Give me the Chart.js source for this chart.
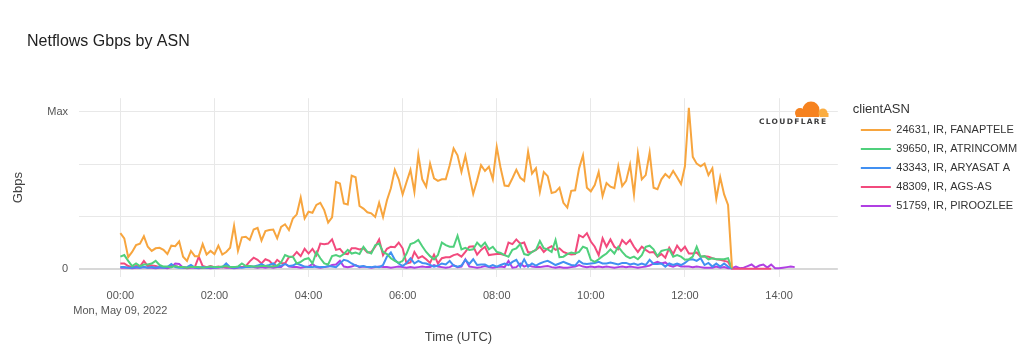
<!DOCTYPE html>
<html>
<head>
<meta charset="utf-8">
<title>Netflows Gbps by ASN</title>
<script src="https://cdn.jsdelivr.net/npm/chart.js@4.4.1/dist/chart.umd.min.js"></script>
<style>
  html, body { margin: 0; padding: 0; background: #fff; }
  #wrap { width: 1033px; height: 358px; }
</style>
</head>
<body>
<div id="wrap"><canvas id="netflows"></canvas></div>
<script>
// samples every 5 minutes from 00:00 UTC
var stepMinutes = 5;

var asnNames = [
  "24631, IR, FANAPTELE",
  "39650, IR, ATRINCOMM",
  "43343, IR, ARYASAT A",
  "48309, IR, AGS-AS",
  "51759, IR, PIROOZLEE"
];
var asnColors = ["#f7a53e", "#4fd07c", "#4190f2", "#f24a7d", "#b03fe3"];

// values relative to the "Max" gridline (= 3)
var fanaptele = [
  0.68, 0.58, 0.22, 0.32, 0.45, 0.48, 0.62, 0.42, 0.34, 0.39, 0.40, 0.36, 0.28, 0.44, 0.43, 0.52, 0.23, 0.15, 0.34, 0.24,
  0.24, 0.47, 0.27, 0.34, 0.28, 0.44, 0.27, 0.32, 0.40, 0.82, 0.34, 0.60, 0.61, 0.55, 0.75, 0.78, 0.54, 0.72, 0.74, 0.75,
  0.58, 0.80, 0.85, 0.74, 0.96, 1.04, 1.36, 0.96, 1.09, 1.07, 1.22, 1.26, 1.12, 0.88, 0.98, 1.66, 1.63, 1.25, 1.23, 1.78,
  1.75, 1.20, 1.15, 1.08, 1.06, 0.99, 1.26, 0.99, 1.31, 1.54, 1.89, 1.71, 1.42, 1.66, 1.89, 1.47, 2.18, 1.71, 1.57, 2.01,
  1.73, 1.68, 1.71, 1.71, 1.98, 2.30, 2.17, 1.85, 2.16, 1.79, 1.43, 1.69, 1.98, 1.87, 1.95, 1.71, 2.33, 1.92, 1.59, 1.58,
  1.73, 1.89, 1.74, 1.68, 2.24, 1.82, 1.92, 1.47, 1.85, 1.77, 1.45, 1.47, 1.55, 1.26, 1.17, 1.49, 1.50, 1.92, 2.17, 1.55,
  1.48, 1.60, 1.85, 1.39, 1.64, 1.57, 1.54, 1.96, 1.58, 1.68, 1.99, 1.42, 2.20, 1.71, 1.79, 2.22, 1.55, 1.52, 1.71, 1.81,
  1.74, 1.87, 1.75, 1.62, 1.96, 3.08, 2.14, 2.01, 1.96, 2.01, 1.79, 1.92, 1.34, 1.75, 1.42, 1.22, 0.02
];
var atrincomm = [
  0.23, 0.26, 0.15, 0.05, 0.10, 0.05, 0.08, 0.08, 0.10, 0.15, 0.07, 0.04, 0.04, 0.03, 0.05, 0.03, 0.03, 0.02, 0.03, 0.03,
  0.03, 0.02, 0.03, 0.04, 0.03, 0.03, 0.04, 0.05, 0.03, 0.03, 0.04, 0.10, 0.05, 0.05, 0.04, 0.04, 0.05, 0.05, 0.04, 0.04,
  0.06, 0.12, 0.26, 0.23, 0.23, 0.10, 0.13, 0.18, 0.20, 0.10, 0.32, 0.20, 0.10, 0.08, 0.24, 0.26, 0.23, 0.28, 0.36, 0.29,
  0.31, 0.28, 0.42, 0.32, 0.29, 0.45, 0.48, 0.32, 0.28, 0.20, 0.15, 0.11, 0.15, 0.29, 0.47, 0.50, 0.55, 0.43, 0.32, 0.24,
  0.18, 0.26, 0.50, 0.45, 0.42, 0.42, 0.63, 0.37, 0.40, 0.36, 0.37, 0.50, 0.42, 0.50, 0.37, 0.42, 0.32, 0.30, 0.26, 0.23,
  0.36, 0.39, 0.47, 0.28, 0.26, 0.32, 0.36, 0.53, 0.39, 0.37, 0.32, 0.55, 0.22, 0.23, 0.28, 0.31, 0.29, 0.32, 0.42, 0.39,
  0.17, 0.13, 0.18, 0.24, 0.29, 0.37, 0.29, 0.42, 0.32, 0.24, 0.20, 0.23, 0.18, 0.26, 0.42, 0.44, 0.37, 0.24, 0.34, 0.36,
  0.37, 0.23, 0.26, 0.23, 0.17, 0.18, 0.23, 0.42, 0.23, 0.24, 0.18, 0.20, 0.18, 0.18, 0.18, 0.20, 0.00
];
var aryasat = [
  0.03, 0.03, 0.02, 0.02, 0.03, 0.02, 0.03, 0.02, 0.03, 0.02, 0.03, 0.02, 0.03, 0.09, 0.03, 0.02, 0.02, 0.03, 0.07, 0.02,
  0.02, 0.03, 0.02, 0.03, 0.02, 0.03, 0.03, 0.10, 0.03, 0.02, 0.03, 0.02, 0.03, 0.03, 0.04, 0.06, 0.09, 0.05, 0.07, 0.10,
  0.04, 0.06, 0.09, 0.05, 0.06, 0.10, 0.07, 0.04, 0.03, 0.03, 0.04, 0.03, 0.03, 0.05, 0.04, 0.03, 0.10, 0.17, 0.15, 0.10,
  0.06, 0.04, 0.05, 0.03, 0.03, 0.04, 0.03, 0.07, 0.23, 0.31, 0.17, 0.10, 0.05, 0.11, 0.20, 0.10, 0.15, 0.11, 0.10, 0.07,
  0.04, 0.06, 0.10, 0.08, 0.15, 0.06, 0.04, 0.06, 0.17, 0.09, 0.18, 0.07, 0.08, 0.08, 0.04, 0.07, 0.04, 0.07, 0.10, 0.07,
  0.13, 0.17, 0.04, 0.18, 0.04, 0.10, 0.06, 0.10, 0.13, 0.15, 0.11, 0.07, 0.10, 0.13, 0.10, 0.07, 0.06, 0.15, 0.10, 0.09,
  0.10, 0.11, 0.13, 0.10, 0.10, 0.12, 0.10, 0.08, 0.11, 0.11, 0.08, 0.10, 0.07, 0.10, 0.07, 0.17, 0.09, 0.09, 0.10, 0.04,
  0.10, 0.07, 0.10, 0.07, 0.11, 0.17, 0.18, 0.15, 0.20, 0.07, 0.11, 0.04, 0.10, 0.04, 0.10, 0.04, 0.00
];
var agsAs = [
  0.10, 0.10, 0.05, 0.03, 0.05, 0.04, 0.15, 0.05, 0.06, 0.05, 0.03, 0.03, 0.03, 0.06, 0.05, 0.03, 0.03, 0.02, 0.03, 0.03,
  0.23, 0.05, 0.03, 0.05, 0.03, 0.04, 0.03, 0.04, 0.03, 0.03, 0.03, 0.03, 0.05, 0.14, 0.21, 0.17, 0.10, 0.18, 0.15, 0.07,
  0.17, 0.11, 0.10, 0.22, 0.23, 0.32, 0.24, 0.38, 0.29, 0.38, 0.26, 0.48, 0.47, 0.48, 0.56, 0.36, 0.38, 0.29, 0.28, 0.39,
  0.39, 0.37, 0.39, 0.31, 0.32, 0.42, 0.56, 0.26, 0.38, 0.42, 0.41, 0.50, 0.39, 0.10, 0.12, 0.32, 0.20, 0.24, 0.18, 0.11,
  0.27, 0.10, 0.20, 0.22, 0.22, 0.26, 0.28, 0.23, 0.32, 0.42, 0.43, 0.27, 0.36, 0.42, 0.26, 0.27, 0.28, 0.28, 0.26, 0.50,
  0.47, 0.56, 0.48, 0.50, 0.31, 0.32, 0.36, 0.42, 0.32, 0.39, 0.43, 0.36, 0.39, 0.32, 0.29, 0.27, 0.28, 0.64, 0.60, 0.68,
  0.52, 0.42, 0.26, 0.58, 0.42, 0.56, 0.42, 0.37, 0.55, 0.47, 0.55, 0.42, 0.32, 0.42, 0.36, 0.31, 0.32, 0.23, 0.28, 0.21,
  0.40, 0.28, 0.44, 0.34, 0.42, 0.29, 0.29, 0.31, 0.23, 0.24, 0.23, 0.20, 0.18, 0.17, 0.15, 0.13, 0.00, 0.00, 0.00, 0.00,
  0.00, 0.00, 0.00, 0.00, 0.00, 0.00, 0.00
];
var piroozlee = [
  0.02, 0.02, 0.02, 0.01, 0.02, 0.02, 0.03, 0.02, 0.02, 0.01, 0.02, 0.02, 0.01, 0.03, 0.10, 0.09, 0.02, 0.01, 0.02, 0.02,
  0.01, 0.02, 0.02, 0.01, 0.02, 0.02, 0.03, 0.02, 0.02, 0.01, 0.02, 0.03, 0.04, 0.05, 0.03, 0.02, 0.03, 0.02, 0.03, 0.02,
  0.03, 0.03, 0.10, 0.04, 0.03, 0.03, 0.02, 0.03, 0.04, 0.09, 0.03, 0.02, 0.03, 0.04, 0.07, 0.08, 0.15, 0.04, 0.03, 0.04,
  0.07, 0.03, 0.04, 0.03, 0.02, 0.03, 0.04, 0.03, 0.03, 0.02, 0.03, 0.04, 0.03, 0.02, 0.03, 0.02, 0.03, 0.04, 0.03, 0.03,
  0.07, 0.04, 0.03, 0.02, 0.03, 0.07, 0.03, 0.04, 0.18, 0.04, 0.03, 0.02, 0.03, 0.05, 0.03, 0.02, 0.03, 0.04, 0.03, 0.15,
  0.02, 0.03, 0.10, 0.04, 0.07, 0.04, 0.03, 0.03, 0.04, 0.05, 0.03, 0.02, 0.03, 0.02, 0.02, 0.03, 0.04, 0.07, 0.04, 0.03,
  0.04, 0.03, 0.04, 0.03, 0.04, 0.03, 0.02, 0.03, 0.04, 0.03, 0.04, 0.03, 0.02, 0.03, 0.04, 0.06, 0.10, 0.13, 0.10, 0.12,
  0.06, 0.04, 0.07, 0.04, 0.04, 0.04, 0.03, 0.04, 0.03, 0.02, 0.02, 0.02, 0.04, 0.02, 0.03, 0.01, 0.01, 0.04, 0.01, 0.02,
  0.05, 0.08, 0.02, 0.06, 0.08, 0.02, 0.08, 0.01, 0.01, 0.02, 0.03, 0.04, 0.03
];

var hourTicks = [0, 2, 4, 6, 8, 10, 12, 14];
var dateLabel = "Mon, May 09, 2022";
var yTicks = [0, 1, 2, 3];
var yTickLabels = ["0", "", "", "Max"];

var hours = piroozlee.map(function (v, i) { return i * stepMinutes / 60; });
var series = [fanaptele, atrincomm, aryasat, agsAs, piroozlee];

function pad2(n) { return (n < 10 ? "0" : "") + n; }

// cloudflare watermark in the top right of the plot
var cloudflareLogo = {
  id: "cloudflareLogo",
  afterDraw: function (chart) {
    var c = chart.ctx;
    c.save();
    c.beginPath();
    c.rect(790, 95, 40, 22);
    c.clip();
    c.fillStyle = "#f6821f";
    c.beginPath(); c.arc(811, 110, 8.5, 0, Math.PI * 2); c.fill();
    c.beginPath(); c.arc(800, 113, 5, 0, Math.PI * 2); c.fill();
    c.fillRect(796, 112, 23, 5);
    c.fillStyle = "#fbad41";
    c.beginPath(); c.arc(823, 113, 4.5, 0, Math.PI * 2); c.fill();
    c.fillRect(819.5, 113, 9, 4);
    c.restore();
    c.save();
    c.fillStyle = "#404041";
    c.font = 'bold 7.5px "DejaVu Sans", sans-serif';
    c.textBaseline = "middle";
    c.textAlign = "left";
    if ("letterSpacing" in c) c.letterSpacing = "1.3px";
    c.fillText("CLOUDFLARE", 759, 122.5);
    c.restore();
  }
};

Chart.defaults.font.family = '"Liberation Sans", Arial, sans-serif';
Chart.defaults.color = "#444";

var ctx = document.getElementById("netflows").getContext("2d");

var netflowsChart = new Chart(ctx, {
  type: "line",
  data: {
    labels: hours,
    datasets: series.map(function (vals, i) {
      return {
        label: asnNames[i],
        data: vals,
        borderColor: asnColors[i],
        backgroundColor: asnColors[i],
        borderWidth: 2,
        pointRadius: 0,
        tension: 0,
        fill: false
      };
    })
  },
  options: {
    responsive: true,
    maintainAspectRatio: false,
    animation: false,
    layout: { padding: { left: 27, right: 15, top: 0, bottom: 0 } },
    plugins: {
      title: {
        display: true,
        text: "Netflows Gbps by ASN",
        align: "start",
        color: "#222",
        font: { size: 16, weight: "normal" },
        padding: { top: 32, bottom: 47 }
      },
      legend: {
        position: "right",
        align: "start",
        title: {
          display: true,
          text: "clientASN",
          color: "#333",
          position: "start",
          font: { size: 13 },
          padding: { top: 103, bottom: -2 }
        },
        labels: {
          usePointStyle: true,
          pointStyle: "line",
          pointStyleWidth: 30,
          boxWidth: 30,
          padding: 8,
          color: "#333",
          font: { size: 11 }
        }
      },
      tooltip: { enabled: false }
    },
    scales: {
      x: {
        type: "linear",
        min: -0.879,
        max: 15.25,
        afterBuildTicks: function (axis) {
          axis.ticks = hourTicks.map(function (v) { return { value: v }; });
        },
        afterFit: function (scale) { scale.height = 81; },
        border: { display: false },
        grid: { color: "#e8e8e8", drawTicks: false },
        ticks: {
          padding: 12,
          maxRotation: 0,
          autoSkip: false,
          color: "#555",
          font: { size: 11, lineHeight: 1.35 },
          callback: function (value) {
            var label = pad2(value) + ":00";
            return value === 0 ? [label, dateLabel] : label;
          }
        },
        title: {
          display: true,
          text: "Time (UTC)",
          color: "#444",
          font: { size: 13 },
          padding: { top: 0, bottom: 13 }
        }
      },
      y: {
        min: -0.159,
        max: 3.262,
        afterBuildTicks: function (axis) {
          axis.ticks = yTicks.map(function (v) { return { value: v }; });
        },
        afterFit: function (scale) { scale.width = 52; },
        border: { display: false },
        grid: {
          drawTicks: false,
          color: function (c) { return c.tick && c.tick.value === 0 ? "#d8d8d8" : "#e8e8e8"; },
          lineWidth: function (c) { return c.tick && c.tick.value === 0 ? 2 : 1; }
        },
        ticks: {
          padding: 11,
          color: "#555",
          font: { size: 11 },
          callback: function (value, index) { return yTickLabels[index]; }
        },
        title: {
          display: true,
          text: "Gbps",
          color: "#444",
          font: { size: 13 },
          padding: { top: -16, bottom: 0 }
        }
      },
      // empty strip between plot and legend
      spacer: {
        type: "linear",
        position: "right",
        display: true,
        border: { display: false },
        grid: { display: false },
        ticks: { display: false },
        afterFit: function (scale) { scale.width = 15; }
      }
    }
  },
  plugins: [cloudflareLogo]
});
</script>
</body>
</html>
